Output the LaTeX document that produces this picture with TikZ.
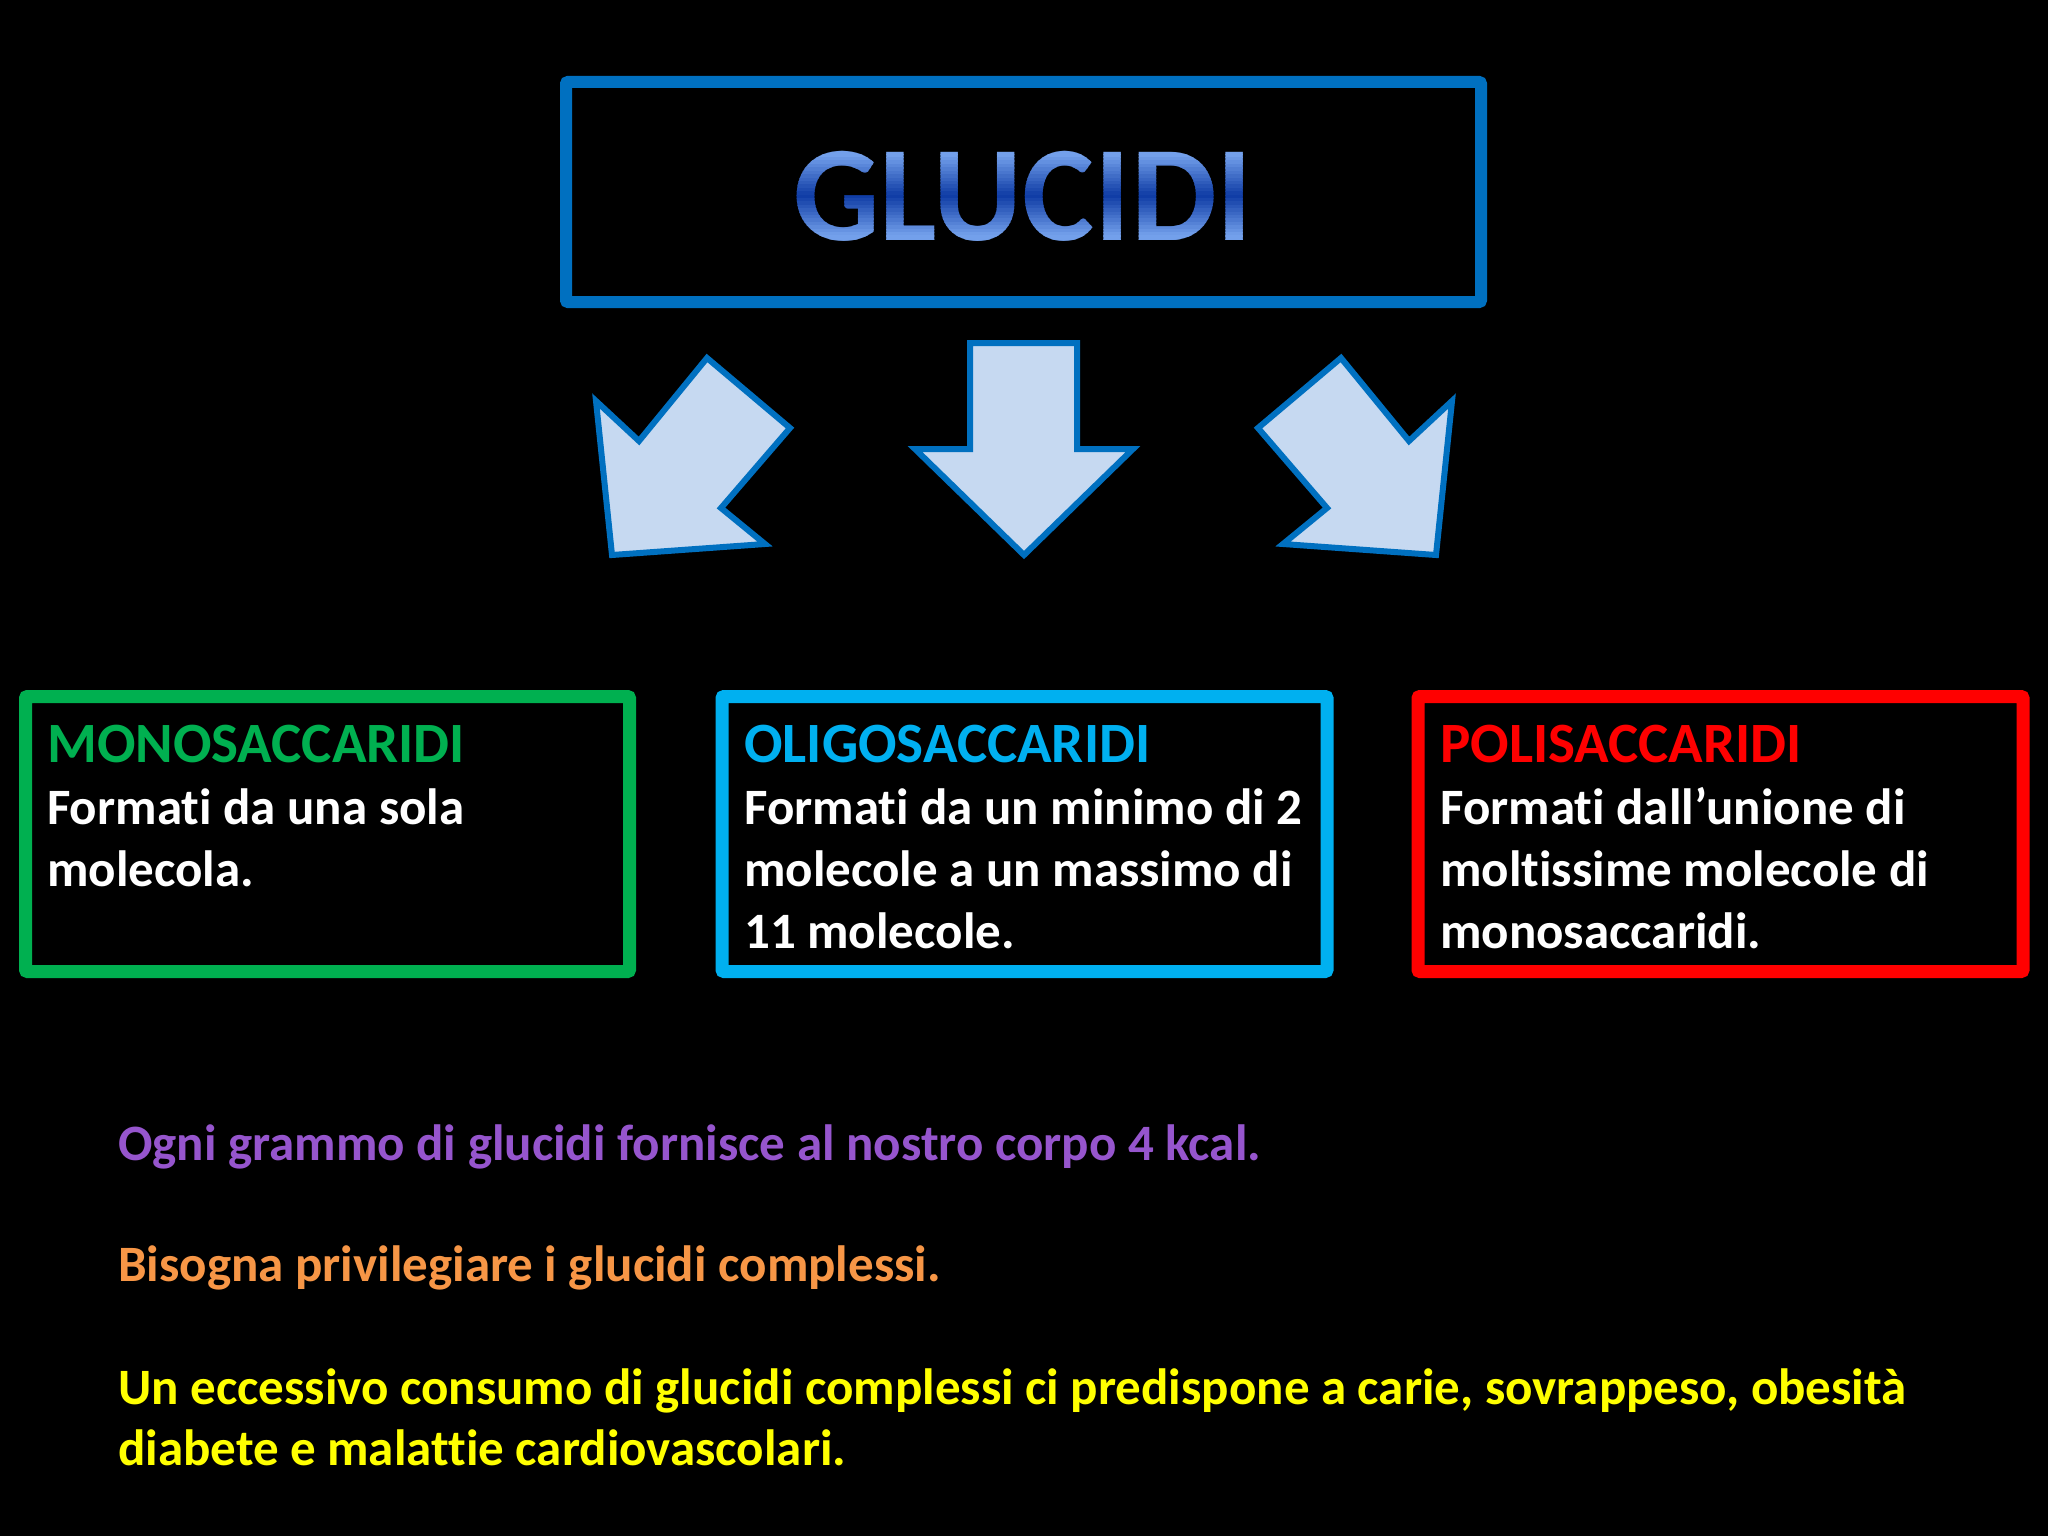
\documentclass[tikz,border=0pt]{standalone}
\usepackage{fontspec}
\setmainfont{Carlito}[Ligatures={NoCommon,NoRequired,NoContextual}]
\definecolor{titleblue}{RGB}{0,112,192}
\definecolor{arrowfill}{RGB}{198,217,241}
\definecolor{mgreen}{RGB}{0,176,80}
\definecolor{oblue}{RGB}{0,176,240}
\definecolor{pred}{RGB}{255,0,0}
\definecolor{tpurple}{RGB}{150,85,205}
\definecolor{torange}{RGB}{247,150,70}
\definecolor{tyellow}{RGB}{255,255,0}
\definecolor{glA}{RGB}{115,160,235}
\definecolor{glB}{RGB}{15,60,165}
\tikzset{
  framebox/.style={draw, line width=13pt, rounded corners=2pt, inner sep=0pt},
  bluearrow/.style={draw=titleblue, fill=arrowfill, line width=6pt, line join=miter},
  boxhead/.style={anchor=base west, inner sep=0pt, font=\fontsize{57}{66}\selectfont\bfseries},
  boxtext/.style={anchor=base west, inner sep=0pt, font=\fontsize{51}{60}\selectfont\bfseries},
  bottext/.style={anchor=base west, inner sep=0pt, font=\fontsize{51}{60}\selectfont\bfseries},
  gltext/.style={anchor=base, inner sep=0pt, font=\fontsize{136}{150}\selectfont\bfseries}
}
\begin{document}
\begin{tikzpicture}[x=1pt,y=-1pt]
\fill[black] (0,0) rectangle (2048,1536);
\useasboundingbox (0,0) rectangle (2048,1536);

% title box
\node[framebox, draw=titleblue, line width=12pt, minimum width=915pt, minimum height=220pt] (title) at (1023.5,192) {};
\foreach \i in {0,...,29}{
  \pgfmathsetmacro{\ya}{144+\i*3.4}
  \pgfmathsetmacro{\tt}{(\ya+1.7-152)/88}
  \pgfmathtruncatemacro{\pp}{100*min(1,abs(\tt-0.5)/0.45)}
  \begin{scope}
    \clip (500,\ya) rectangle (1550,\ya+3.6);
    \node[gltext, text={glA!\pp!glB}] (gl\i) at (1023,240) {GLUCIDI};
  \end{scope}
}

% arrows
\draw[bluearrow] (596,401) -- (639,441) -- (707,358) -- (790,428) -- (721,508) -- (765,544) -- (612,555) -- cycle;
\draw[bluearrow] (970,343) -- (1077,343) -- (1077,449) -- (1133,449) -- (1024,555) -- (915,449) -- (970,449) -- cycle;
\draw[bluearrow] (1452,401) -- (1409,441) -- (1341,358) -- (1258,428) -- (1327,508) -- (1283,544) -- (1436,555) -- cycle;

% boxes
\node[framebox, draw=mgreen, minimum width=604pt, minimum height=275pt] (mono) at (327.5,834) {};
\node[framebox, draw=oblue, minimum width=605pt, minimum height=275pt] (oligo) at (1024.5,834) {};
\node[framebox, draw=pred, minimum width=605pt, minimum height=275pt] (poli) at (1720.5,834) {};

\node[boxhead, text=mgreen] (m0) at (47,762) {MONOSACCARIDI};
\node[boxtext, text=white] (m1) at (47,824) {Formati da una sola};
\node[boxtext, text=white] (m2) at (47,886) {molecola.};

\node[boxhead, text=oblue] (o0) at (744,762) {OLIGOSACCARIDI};
\node[boxtext, text=white] (o1) at (744,824) {Formati da un minimo di 2};
\node[boxtext, text=white] (o2) at (744,886) {molecole a un massimo di};
\node[boxtext, text=white] (o3) at (744,948) {11 molecole.};

\node[boxhead, text=pred] (p0) at (1440,762) {POLISACCARIDI};
\node[boxtext, text=white] (p1) at (1440,824) {Formati dall’unione di};
\node[boxtext, text=white] (p2) at (1440,886) {moltissime molecole di};
\node[boxtext, text=white] (p3) at (1440,948) {monosaccaridi.};

% bottom texts
\node[bottext, text=tpurple] (b1) at (118,1160) {Ogni grammo di glucidi fornisce al nostro corpo 4 kcal.};
\node[bottext, text=torange] (b2) at (118,1281) {Bisogna privilegiare i glucidi complessi.};
\node[bottext, text=tyellow] (b3) at (118,1404) {Un eccessivo consumo di glucidi complessi ci predispone a carie, sovrappeso, obesità};
\node[bottext, text=tyellow] (b4) at (118,1465) {diabete e malattie cardiovascolari.};
\end{tikzpicture}
\end{document}
